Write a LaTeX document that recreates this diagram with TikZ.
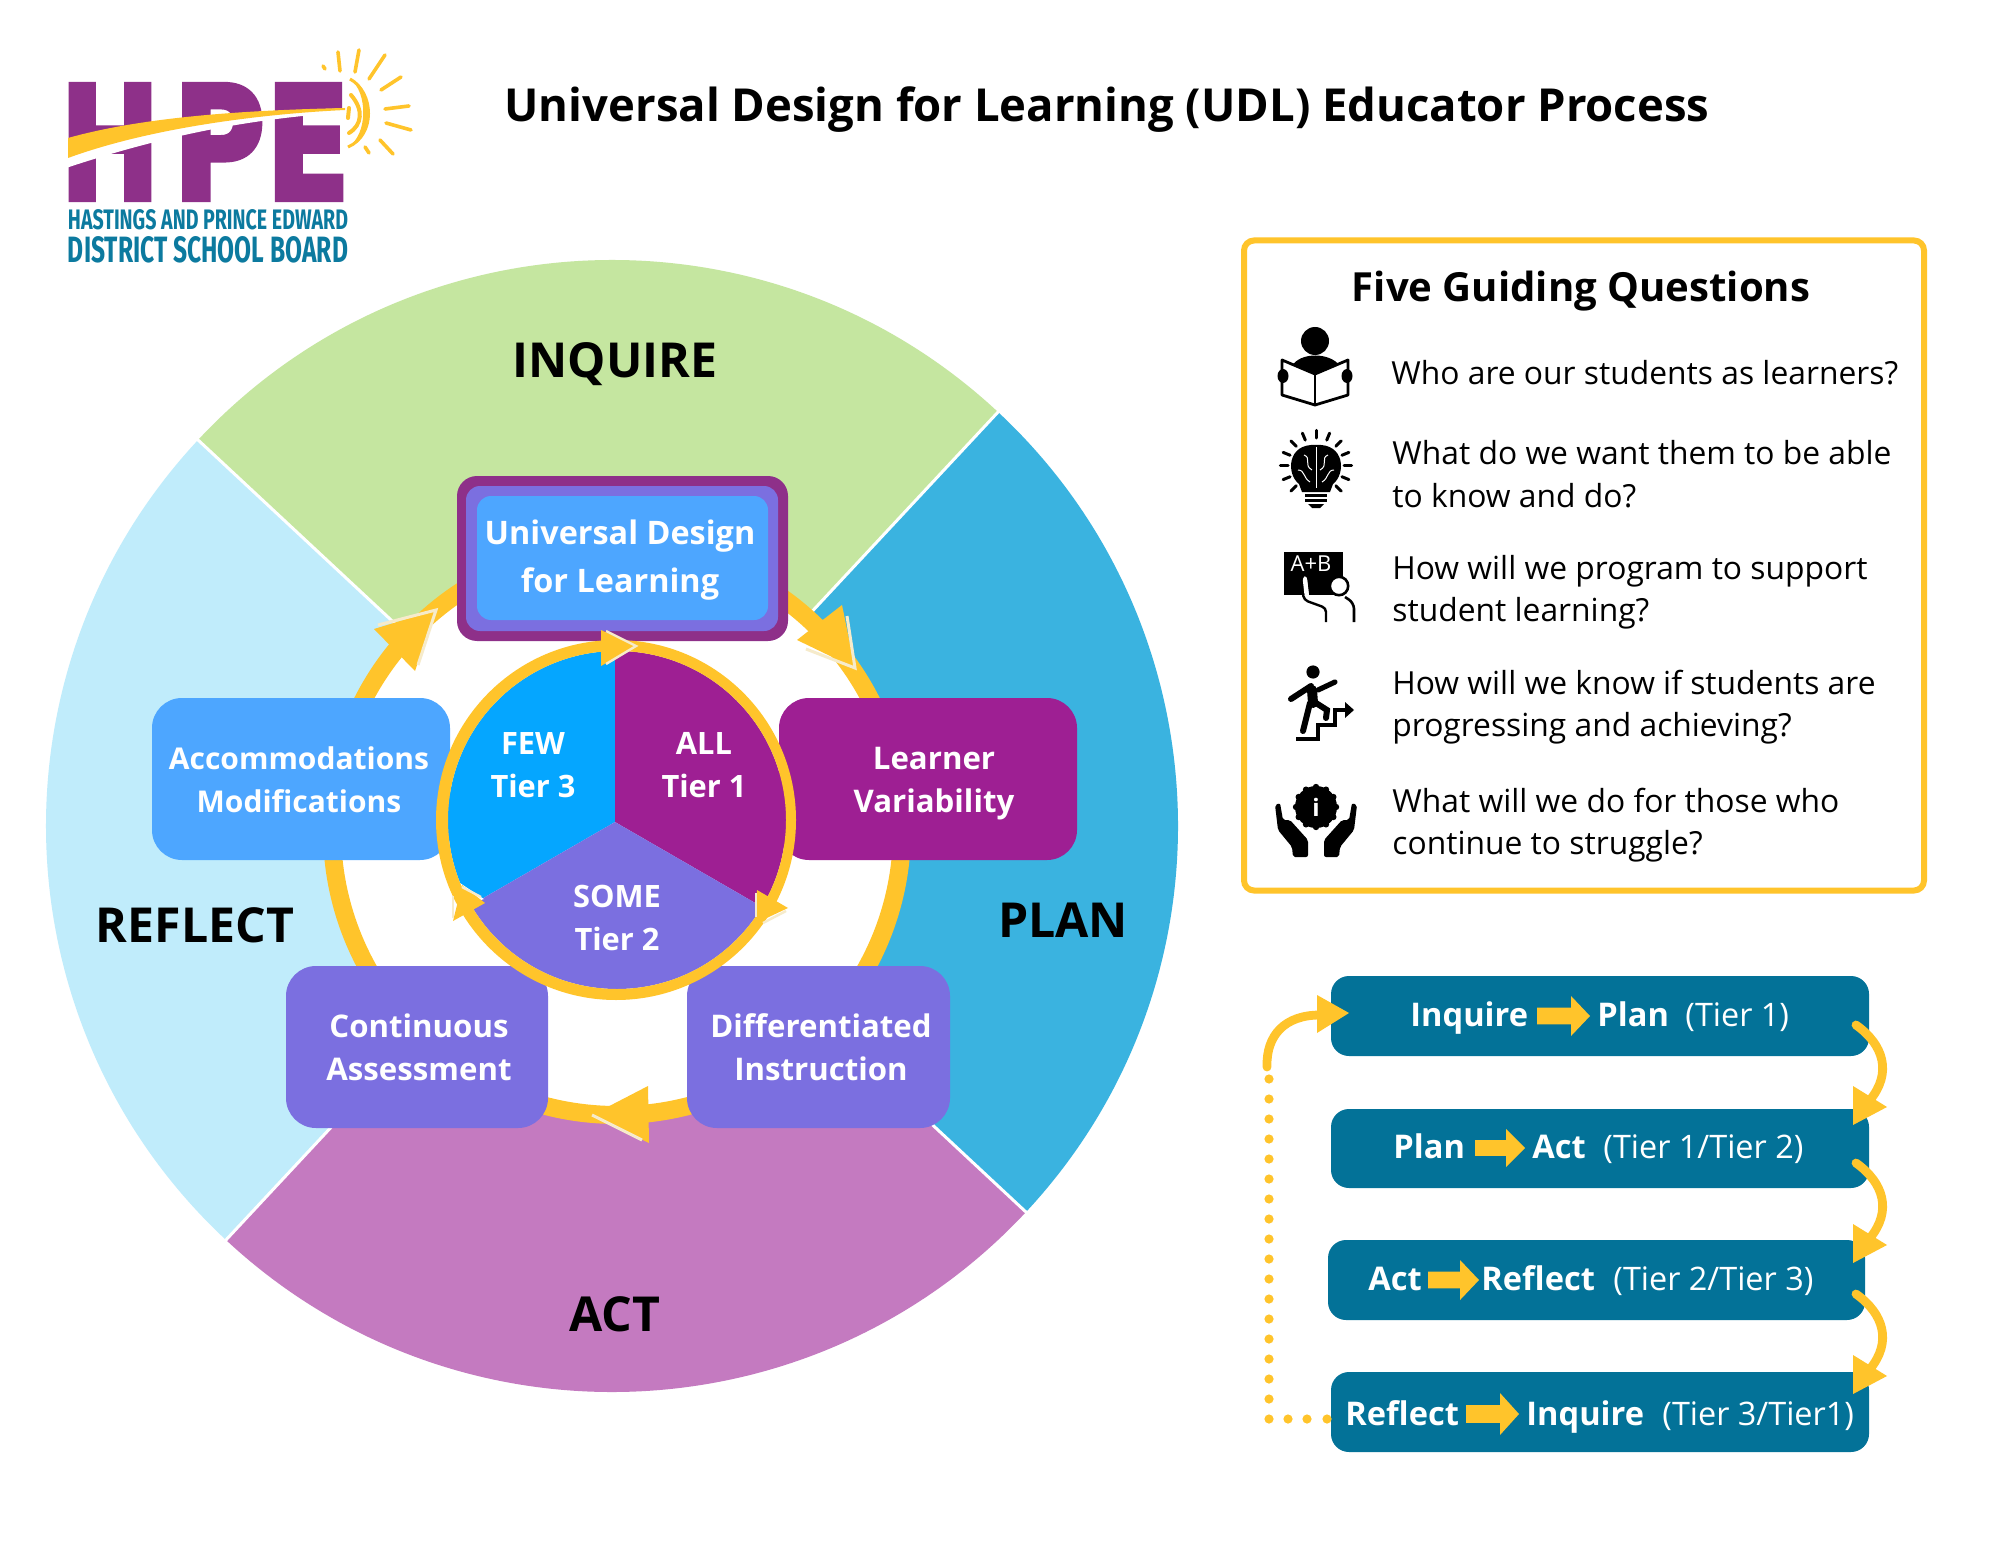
\documentclass[tikz,border=0pt]{standalone}
\usepackage{fontspec}
\setmainfont{Open Sans}
\newfontfamily\logofont[FakeBold=4]{DejaVu Sans Bold}
\newfontfamily\condfont{Fira Sans}
\usetikzlibrary{calc}
\definecolor{yel}{HTML}{FFC42B}
\definecolor{cream}{HTML}{F6EBCB}
\definecolor{inq}{HTML}{C5E6A0}
\definecolor{pln}{HTML}{3AB3E0}
\definecolor{act}{HTML}{C47AC0}
\definecolor{rfl}{HTML}{C0ECFB}
\definecolor{mag}{HTML}{9E1F93}
\definecolor{lav}{HTML}{7B6FE0}
\definecolor{sky}{HTML}{4DA6FF}
\definecolor{azu}{HTML}{05A6FF}
\definecolor{plum}{HTML}{8E3089}
\definecolor{teal}{HTML}{037298}
\definecolor{logot}{HTML}{0C7A9F}
\newcommand\fsz[1]{\fontsize{#1}{#1}\selectfont}
\newcommand\StepArrow[2]{%
  \coordinate (sa#1) at (1856,#2);
  \coordinate (sb#1) at (1870,#2+75);
  \draw[yel,line width=4.4pt,line cap=round] (sa#1) .. controls (1884,#2+20) and (1892,#2+48) .. (sb#1);
  \fill[yel] (1887,#2+82) -- (1853,#2+61) -- (1853,#2+100) -- cycle;}
\newcommand\Blk[5]{\fill[yel] (#1,#4-#5*0.42) -- (#2,#4-#5*0.42) -- (#2,#4-#5) -- (#3,#4) -- (#2,#4+#5) -- (#2,#4+#5*0.42) -- (#1,#4+#5*0.42) -- cycle;}
\tikzset{
  sect/.style={draw=white,line width=1.5pt},
  pill/.style={rounded corners=15pt,inner sep=0pt,minimum height=81pt},
  pilltext/.style={text=white,align=center,inner sep=0pt,font=\bfseries\fsz{15.6}},
  rowbox/.style={fill=teal,rounded corners=9pt},
  tier/.style={text=white,font=\bfseries\fsz{15.4},align=center,inner sep=0pt},
  phase/.style={font=\bfseries\fsz{24.1},text=black,inner sep=0pt},
  qtext/.style={anchor=base west,inner sep=0pt,font=\fsz{15.9},text=black},
  rb/.style={anchor=base west,inner sep=0pt,text=white,font=\bfseries\fsz{16.3}},
  rr/.style={anchor=base west,inner sep=0pt,text=white,font=\fsz{16.2}},
  ray/.style={yel,line width=1.8pt,line cap=round},
  icon/.style={black,line width=1.4pt,line cap=round},
}
\begin{document}
\begin{tikzpicture}[x=0.5pt,y=-0.5pt]
\useasboundingbox (0,0) rectangle (2000,1545);
\fill[white] (0,0) rectangle (2000,1545);
% ---- title
\node[inner sep=0pt,font=\bfseries\fsz{22.73}] (title) at (1107,110) {Universal Design for Learning (UDL) Educator Process};
% ---- logo
\node[inner sep=0pt,text=plum] (lgH) at (110,142) {\resizebox{50pt}{57pt}{\logofont H}};
\node[inner sep=0pt,text=plum] (lgP) at (219,142) {\resizebox{46pt}{57pt}{\logofont P}};
\node[inner sep=0pt,text=plum] (lgE) at (308,142) {\resizebox{42pt}{57pt}{\logofont E}};
\fill[white] (60,141) .. controls (173,112) and (260,112) .. (350,108) -- (350,112) .. controls (260,118) and (173,132) .. (60,170) -- cycle;
\fill[yel] (68,138) .. controls (150,115) and (260,110) .. (345,108) -- (345,110) .. controls (260,114) and (150,128) .. (68,158) -- cycle;
\node[inner sep=0pt,text=logot] (lg1) at (208,220) {\resizebox{140pt}{10pt}{\condfont\bfseries HASTINGS AND PRINCE EDWARD}};
\node[inner sep=0pt,text=logot] (lg2) at (208,250) {\resizebox{140pt}{13pt}{\condfont\bfseries DISTRICT SCHOOL BOARD}};
\fill[yel] (350,79) .. controls (375,92) and (376,135) .. (348,147) .. controls (368,135) and (368,92) .. (350,79) -- cycle;
\draw[yel,line width=1.5pt] (350,79) .. controls (374,92) and (376,135) .. (348,147);
\draw[yel,line width=2pt,line cap=round] (351,95) .. controls (364,110) and (362,125) .. (349,133);
\draw[yel,line width=2pt,line cap=round] (349,108) -- (348,118);
\draw[ray] (323,66) -- (325,69);
\draw[ray] (338,52) -- (340,71);
\draw[ray] (359,50) -- (355,72);
\draw[ray] (385,55) -- (369,79);
\draw[ray] (401,77) -- (381,90);
\draw[ray] (409,106) -- (385,109);
\draw[ray] (411,130) -- (386,123);
\draw[ray] (393,154) -- (380,140);
\draw[ray] (369,153) -- (365,147);
% ---- big wheel
\fill[inq] (612,826) -- +(47:283pt) arc[start angle=47,end angle=137,radius=283pt] -- cycle;
\fill[rfl] (612,826) -- +(137:283pt) arc[start angle=137,end angle=227,radius=283pt] -- cycle;
\fill[act] (612,826) -- +(227:283pt) arc[start angle=227,end angle=317,radius=283pt] -- cycle;
\fill[pln] (612,826) -- +(317:283pt) arc[start angle=317,end angle=407,radius=283pt] -- cycle;
\draw[sect] (612,826) -- +(47:283.5pt);
\draw[sect] (612,826) -- +(137:283.5pt);
\draw[sect] (612,826) -- +(227:283.5pt);
\draw[sect] (612,826) -- +(317:283.5pt);
\node[phase] (inquire) at (615,364) {INQUIRE};
\node[phase] (plan) at (1063,920) {PLAN};
\node[phase] (reflect) at (195,925) {REFLECT};
\node[phase] (actl) at (615,1314) {ACT};
% ---- ring
\coordinate (ringc) at (617,830);
\fill[white] (ringc) circle[radius=142.5pt];
\draw[yel,line width=9pt] (ringc) circle[radius=142.5pt];
% ring arrowheads
\fill[yel] (436,610) -- (374,629) -- (415,671) -- cycle;
\draw[cream,line width=1.5pt] (378,625) -- (436,610) -- (418,665);
\fill[yel] (855,668) -- (842,605) -- (797,640) -- cycle;
\draw[cream,line width=1.5pt] (847,616) -- (855,668) -- (806,649);
\fill[yel] (592,1115) -- (648,1086) -- (649,1143) -- cycle;
\draw[cream,line width=1.5pt] (642,1140) -- (592,1115);
% ---- boxes
\node[pill,fill=sky,minimum width=149pt] (accomb) at (301,779) {};
\node[pill,fill=mag,minimum width=149pt] (learnb) at (928,779) {};
\node[pill,fill=lav,minimum width=131pt] (contb) at (417,1047) {};
\node[pill,fill=lav,minimum width=131.5pt] (diffb) at (818.5,1047) {};
\node[pilltext,font=\bfseries\fsz{15}] (accom) at (299,780) {Accommodations\\[6.5pt]Modifications};
\node[pilltext] (learn) at (934,784) {Learner\\[6pt]Variability};
\node[pilltext] (cont) at (419,1047) {Continuous\\[6pt]Assessment};
\node[pilltext] (diff) at (821,1047) {Differentiated\\[6pt]Instruction};
% ---- UDL
\fill[plum,rounded corners=10pt] (457,476) rectangle (788,641);
\fill[lav,rounded corners=7pt] (466,486) rectangle (778,631);
\node[fill=sky,rounded corners=7pt,minimum width=145.5pt,minimum height=62pt,inner sep=0pt] (udlb) at (622.5,558) {};
\node[inner sep=0pt,text=white,align=center,font=\bfseries\fsz{16.2}] (udl) at (620,560) {Universal Design\\[7pt]for Learning};
% ---- tier pie
\coordinate (piec) at (615,822);
\begin{scope}
\clip (617,820) circle[radius=84.5pt];
\fill[azu] (piec) -- +(90:200pt) -- +(180:200pt) -- +(210:200pt) -- cycle;
\fill[mag] (piec) -- +(90:200pt) -- +(0:200pt) -- +(-30:200pt) -- cycle;
\fill[lav] (piec) -- +(210:200pt) -- +(270:200pt) -- +(-30:200pt) -- cycle;
\end{scope}
\fill[white] (448,875) -- (484,899) -- (466,905) -- (448,890) -- cycle;
\fill[yel,even odd rule] (616,820) circle[radius=90pt] (617,820) circle[radius=84.5pt];
\node[tier] (few) at (533,765) {FEW\\[6pt]Tier 3};
\node[tier] (all) at (704,765) {ALL\\[6pt]Tier 1};
\node[tier] (some) at (617,918) {SOME\\[6pt]Tier 2};
% pie arrowheads
\fill[yel] (636,646) -- (601,630) -- (601,666) -- cycle;
\draw[cream,line width=1.2pt] (606,631) -- (636,646) -- (606,664);
\fill[yel] (788,908) -- (757,890) -- (756,923) -- cycle;
\draw[cream,line width=1.2pt] (756,893) -- (756,917);
\draw[cream,line width=1.2pt] (763,923) -- (786,911);
\fill[yel] (485,903) -- (462,885) -- (453,921) -- cycle;
\draw[cream,line width=1.2pt] (462,887) -- (481,897);
\draw[cream,line width=1.2pt] (453,896) -- (453,918);
% ---- questions
\node[draw=yel,line width=3pt,rounded corners=5pt,minimum width=340pt,minimum height=325pt,inner sep=0pt] (qbox) at (1584,565.5) {};
\node[inner sep=0pt,font=\bfseries\fsz{20.05}] (qhead) at (1581,291) {Five Guiding Questions};
\node[qtext] (q1) at (1391,384.5) {Who are our students as learners?};
\node[qtext] (q2a) at (1392,465) {What do we want them to be able};
\node[qtext] (q2b) at (1392,507) {to know and do?};
\node[qtext] (q3a) at (1392,579) {How will we program to support};
\node[qtext] (q3b) at (1392,621) {student learning?};
\node[qtext] (q4a) at (1392,694) {How will we know if students are};
\node[qtext] (q4b) at (1392,736) {progressing and achieving?};
\node[qtext] (q5a) at (1392,812) {What will we do for those who};
\node[qtext] (q5b) at (1392,854) {continue to struggle?};
% icon: reader
\fill (1315,341) circle[radius=7pt];
\fill (1292,366) .. controls (1300,352) and (1330,352) .. (1340,366) -- (1316,376) -- cycle;
\draw[icon,fill=white,line join=round] (1282,360) -- (1315,374) -- (1348,360) -- (1348,395) -- (1315,405) -- (1282,395) -- cycle;
\draw[icon] (1315,374) -- (1315,405);
\fill (1283,376) ellipse[x radius=5.5,y radius=7];
\fill (1347,376) ellipse[x radius=5.5,y radius=7];
% icon: bulb
\foreach \a in {-45,-22.5,0,22.5,45,67.5,90,112.5,135,157.5,180,202.5,225}
  \draw[line width=1.5pt,line cap=round] (1316,466) ++(\a+0:14pt) -- ++(\a+0:3.8pt);
\fill (1316,445) .. controls (1345,443) and (1346,474) .. (1333,484) -- (1330,492) -- (1302,492) -- (1299,484) .. controls (1286,474) and (1287,443) .. (1316,445) -- cycle;
\draw[white,line width=.5pt] (1316,447) -- (1316,488);
\draw[white,line width=.5pt] (1304,455) .. controls (1312,458) and (1303,465) .. (1312,470);
\draw[white,line width=.5pt] (1328,455) .. controls (1320,458) and (1329,465) .. (1320,470);
\draw[white,line width=.5pt] (1298,470) .. controls (1305,470) and (1303,478) .. (1310,482);
\draw[white,line width=.5pt] (1334,470) .. controls (1327,470) and (1329,478) .. (1322,482);
\fill (1305,494) rectangle (1327,497);
\fill (1305,499) rectangle (1327,502);
\fill (1308,504) -- (1324,504) -- (1320,508) -- (1312,508) -- cycle;
% icon: A+B
\fill (1284,552) rectangle (1343,595);
\node[inner sep=0pt,text=white,font=\fsz{11}] (apb) at (1311,564) {A+B};
\draw[white,line width=2.2pt,line cap=round] (1305,580) -- (1307,598) -- (1326,608) -- (1326,625);
\draw[black,line width=1.2pt,rounded corners=2pt] (1303,594) -- (1304,600) -- (1326,608) -- (1326,622);
\draw[black,fill=white,line width=1.3pt] (1339,586) circle[radius=4.6pt];
\draw[black,line width=1.3pt,rounded corners=3pt] (1345,597) -- (1354,603) -- (1354,622);
\draw[white,line width=1.8pt,line cap=round] (1305,578) -- (1307,594);
% icon: runner
\fill (1313,672) circle[radius=3.3pt];
\draw[icon,line width=3pt] (1311,686) -- (1291,699);
\draw[icon,line width=2.6pt] (1318,690) -- (1335,682);
\draw[icon,line width=5pt] (1312,690) -- (1313,703);
\draw[icon,line width=3pt] (1310,703) -- (1303,731);
\draw[icon,line width=3pt] (1316,703) -- (1327,710) -- (1326,718);
\draw[icon,line width=1.6pt,line cap=butt] (1296,739) -- (1318,739) -- (1318,725) -- (1335,725) -- (1335,710) -- (1345,710);
\fill (1354,710) -- (1345,702) -- (1345,718) -- cycle;
% icon: hands
\fill (1316,807) circle[radius=10.5pt];
\foreach \a in {0,30,...,330} \fill (1316,807) ++(\a:10pt) circle[radius=1.6pt];
\node[inner sep=0pt,text=white,font=\bfseries\fsz{12}] (inf) at (1316,807) {i};
\fill[rounded corners=1pt] (1275,805) -- (1280,803) -- (1283,820) -- (1290,820) -- (1308,840) -- (1308,857) -- (1293,857) -- (1292,847) -- (1278,830) -- cycle;
\fill[rounded corners=1pt] (1357,805) -- (1352,803) -- (1349,820) -- (1342,820) -- (1324,840) -- (1324,857) -- (1339,857) -- (1340,847) -- (1354,830) -- cycle;
% ---- process rows
\fill[rowbox] (1331,976) rectangle (1869,1056);
\fill[rowbox] (1331,1109) rectangle (1869,1188);
\fill[rowbox] (1328,1240) rectangle (1865,1320);
\fill[rowbox] (1331,1372) rectangle (1869,1452);
\node[rb] (r1a) at (1410,1026) {Inquire};
\Blk{1537}{1571}{1590}{1016}{20}
\node[rb] (r1b) at (1597,1026) {Plan};
\node[rr] (r1c) at (1685,1026) {(Tier 1)};
\node[rb] (r2a) at (1393,1158) {Plan};
\Blk{1475}{1506}{1525}{1148}{19}
\node[rb] (r2b) at (1532,1158) {Act};
\node[rr] (r2c) at (1603,1158) {(Tier 1/Tier 2)};
\node[rb] (r3a) at (1368,1290) {Act};
\Blk{1428}{1460}{1479}{1280}{20}
\node[rb] (r3b) at (1481,1290) {Reflect};
\node[rr] (r3c) at (1613,1290) {(Tier 2/Tier 3)};
\node[rb] (r4a) at (1345,1425) {Reflect};
\Blk{1466}{1500}{1519}{1414}{21}
\node[rb] (r4b) at (1526,1425) {Inquire};
\node[rr] (r4c) at (1662,1425) {(Tier 3/Tier1)};
% ---- flow arrows
\StepArrow{1}{1025}
\StepArrow{2}{1163}
\StepArrow{3}{1294}
\coordinate (la0) at (1267,1067);
\coordinate (la1) at (1320,1015);
\draw[yel,line width=4.4pt,line cap=round] (la0) .. controls (1266,1035) and (1285,1015) .. (la1);
\fill[yel] (1349,1013) -- (1317,995) -- (1317,1033) -- cycle;
\foreach \yy in {1079,1099,...,1399} \fill[yel] (1269,\yy) circle[radius=2.3pt];
\foreach \xx in {1269,1288,1307,1327} \fill[yel] (\xx,1419) circle[radius=2.3pt];
\end{tikzpicture}
\end{document}
